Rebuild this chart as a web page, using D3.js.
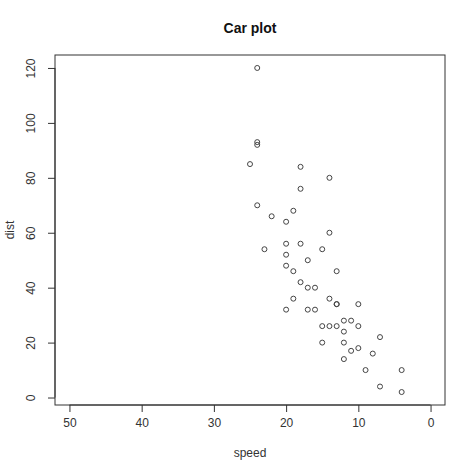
<!DOCTYPE html>
<html><head><meta charset="utf-8">
<script src="https://cdn.jsdelivr.net/npm/d3@7"></script>
<style>body{margin:0;background:#fff}svg{display:block}</style>
</head><body>
<script>
const speed = [4,4,7,7,8,9,10,10,10,11,11,12,12,12,12,13,13,13,13,14,14,14,14,15,15,15,16,16,17,17,17,18,18,18,18,19,19,19,20,20,20,20,20,22,23,24,24,24,24,25];
const dist = [2,10,4,22,16,10,18,26,34,17,28,14,20,24,28,26,34,34,46,26,36,60,80,20,26,54,32,40,32,40,50,42,56,76,84,36,46,68,32,48,52,56,64,66,54,70,92,93,120,85];
const xTicks = [50,40,30,20,10,0];
const yTicks = [0,20,40,60,80,100,120];

const W = 474, H = 474;
const box = {l:55, r:445, t:55, b:405};
const svg = d3.select("body").append("svg").attr("width",W).attr("height",H);
const x = d3.scaleLinear().domain([52,-2]).range([box.l, box.r]);
const y = d3.scaleLinear().domain([-2.72,124.72]).range([box.b, box.t]);
const font = "Liberation Sans, Arial, sans-serif";
const col = "#333";

svg.append("rect").attr("x",box.l).attr("y",box.t).attr("width",box.r-box.l).attr("height",box.b-box.t)
  .attr("fill","none").attr("stroke",col).attr("stroke-width",1);

const xa = svg.append("g").attr("transform",`translate(0,${box.b})`)
  .call(d3.axisBottom(x).tickValues(xTicks).tickSize(7).tickPadding(6).tickFormat(d3.format("d")));
xa.select(".domain").attr("d",`M${x(50)},0H${x(0)}`).attr("stroke",col);
xa.selectAll("line").attr("stroke",col);
xa.selectAll("text").attr("font-family",font).attr("font-size",12).attr("fill",col);

const ya = svg.append("g").attr("transform",`translate(${box.l},0)`)
  .call(d3.axisLeft(y).tickValues(yTicks).tickSize(7).tickFormat(d3.format("d")));
ya.select(".domain").attr("d",`M0,${y(0)}V${y(120)}`).attr("stroke",col);
ya.selectAll("line").attr("stroke",col);
ya.selectAll("text").attr("font-family",font).attr("font-size",12).attr("fill",col)
  .attr("text-anchor","middle").attr("x",0).attr("dy",0)
  .attr("transform","translate(-20,0) rotate(-90)");

svg.append("g").selectAll("circle").data(speed).join("circle")
  .attr("cx",(d)=>x(d)).attr("cy",(d,i)=>y(dist[i])).attr("r",2.5)
  .attr("fill","none").attr("stroke","#444").attr("stroke-width",1);

svg.append("text").attr("x",(box.l+box.r)/2).attr("y",33).attr("text-anchor","middle")
  .attr("font-family",font).attr("font-weight","bold").attr("font-size",14).attr("fill","#111").text("Car plot");
svg.append("text").attr("x",(box.l+box.r)/2).attr("y",457).attr("text-anchor","middle")
  .attr("font-family",font).attr("font-size",12).attr("fill",col).text("speed");
svg.append("text").attr("transform",`translate(14,${(box.t+box.b)/2}) rotate(-90)`).attr("text-anchor","middle")
  .attr("font-family",font).attr("font-size",12).attr("fill",col).text("dist");
</script>
</body></html>
